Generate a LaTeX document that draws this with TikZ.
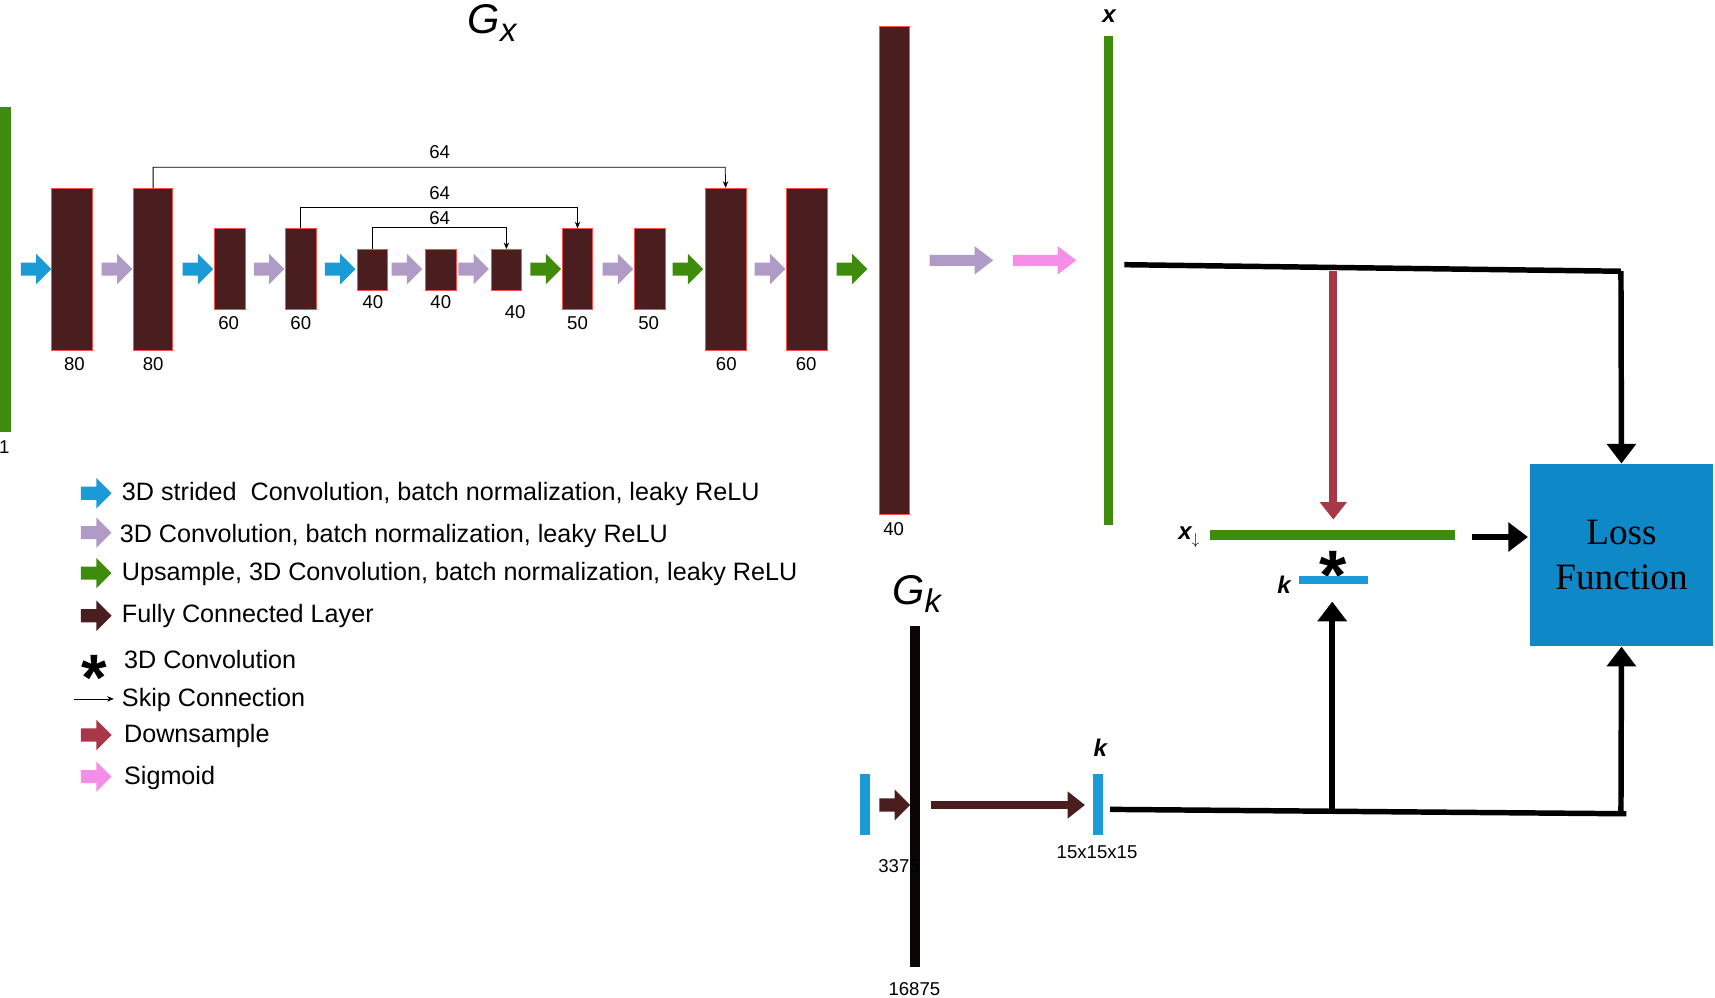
\documentclass[tikz,border=0pt]{standalone}
\usepackage{fontspec}
\setmainfont{Liberation Sans}
\newfontfamily\serifx{Liberation Serif}
\usetikzlibrary{arrows.meta}
\definecolor{cblue}{HTML}{1A9AD6}
\definecolor{clil}{HTML}{B09AC6}
\definecolor{cgrn}{HTML}{3F8C0C}
\definecolor{cbrn}{HTML}{4A1E1E}
\definecolor{cred}{HTML}{A83848}
\definecolor{cpink}{HTML}{F48EE8}
\definecolor{closs}{HTML}{0F88C8}
\begin{document}
\begin{tikzpicture}[x=1pt,y=-1pt,
  box/.style={draw=red!70!white,line width=0.6pt,fill=cbrn,inner sep=0,minimum width=#1},
  lab/.style={font=\fontsize{17}{17}\selectfont},
  leg/.style={font=\fontsize{23}{25}\selectfont,anchor=west},
  skip/.style={-{Stealth[length=6pt,width=5pt]},line width=0.7pt},
  fat/.pic={\fill[#1] (-14,-6) rectangle (0,6) (0,-14) -- (14,0) -- (0,14) -- cycle;},
  bigfat/.pic={\fill[#1] (-29,-5) rectangle (12,5) (12,-13) -- (29,0) -- (12,13) -- cycle;},
  thick line/.style={line width=5pt},
  bi/.style={font=\fontsize{22}{22}\selectfont\bfseries\itshape}]
\useasboundingbox (0,0) rectangle (1568,912);
% input bar
\fill[cgrn] (0,98) rectangle (10,395);
\node[lab] at (4,409) {1};
% boxes
\node[box=37pt,minimum height=148pt] (b1) at (65.5,246) {};
\node[box=36pt,minimum height=148pt] (b2) at (140,246) {};
\node[box=28pt,minimum height=74pt] (b3) at (210,246) {};
\node[box=28pt,minimum height=74pt] (b4) at (275,246) {};
\node[box=27pt,minimum height=37pt] (b5) at (340.5,246.5) {};
\node[box=28pt,minimum height=37pt] (b6) at (403,246.5) {};
\node[box=28pt,minimum height=37pt] (b7) at (463,246.5) {};
\node[box=28pt,minimum height=74pt] (b8) at (528,246) {};
\node[box=28pt,minimum height=74pt] (b9) at (594,246) {};
\node[box=37pt,minimum height=148pt] (b10) at (663.5,246) {};
\node[box=37pt,minimum height=148pt] (b11) at (737.5,246) {};
\node[box=27pt,minimum height=446pt] (b12) at (817.5,247) {};
\foreach \x/\y/\t in {68/333/80,140/333/80,209/295/60,275/295/60,341/276/40,403/276/40,471/285/40,528/295/50,593/295/50,664/333/60,737/333/60,817/484/40}
  \node[lab] at (\x,\y) {\t};
% arrows
\foreach \x/\c in {33/cblue,107/clil,181/cblue,246/clil,311/cblue,372/clil,433/clil,499/cgrn,565/clil,629/cgrn,704/clil,779/cgrn}
  \pic at (\x,246) {fat=\c};
\pic at (879,238) {bigfat=clil};
\pic at (955,238) {bigfat=cpink};
% skips
\draw[skip] (b2.north) |- (663,153) -- (b10.north);
\draw[skip] (b4.north) |- (528,190) -- (b8.north);
\draw[skip] (b5.north) |- (463,208) -- (b7.north);
\node[lab] at (402,139) {64};
\node[lab] at (402,177) {64};
\node[lab] at (402,199) {64};
\node[font=\fontsize{38}{38}\selectfont\itshape] at (450,21) {G\raisebox{-7pt}{\fontsize{30}{30}\selectfont x}};
% x branch
\fill[cgrn] (1009,33) rectangle (1018,480);
\node[bi] at (1014,15) {x};
\node[draw=none,fill=closs,minimum width=167pt,minimum height=167pt,align=center,
  font=\serifx\fontsize{34}{41}\selectfont] (loss) at (1482.5,507.5) {Loss\\Function};
\coordinate (xs) at (1028,242);
\coordinate (xc) at (1482,248);
\draw[thick line] (xs) -- (xc);
\draw[thick line,-{Triangle[length=18pt,width=26pt]}] (xc) -- (loss.north);
\fill[cgrn] (1106,485) rectangle (1330,494);
\node[bi] at (1087,491) {x\raisebox{-4pt}{$\scriptstyle\downarrow$}};
\draw[cred,line width=7pt,-{Triangle[length=16pt,width=24pt]}] (1219,248) -- (1219,475);
\node[font=\fontsize{64}{64}\selectfont\bfseries] at (1219,526) {*};
\fill[cblue] (1188,527) rectangle (1251,534);
\node[bi] at (1174,535) {k};
\draw[line width=6pt,-{Triangle[length=18pt,width=26pt]}] (1346,491) -- (1397,491);
% Gk
\node[font=\fontsize{38}{38}\selectfont\itshape] at (838,543) {G\raisebox{-7pt}{\fontsize{30}{30}\selectfont k}};
\fill[black!85!cbrn] (832,572) rectangle (841,884);
\node[lab] at (836,904) {16875};
\fill[cblue] (786,708) rectangle (795,763);
\pic at (818,736) {fat=cbrn};
\node[lab] at (822,792) {3375};
\fill[cblue] (999,708) rectangle (1008,763);
\node[bi] at (1006,684) {k};
\node[lab] at (1003,779) {15x15x15};
\coordinate (ga) at (851,736);
\coordinate (gb) at (992,736);
\draw[cbrn,line width=7pt,-{Triangle[length=16pt,width=24pt]}] (ga) -- (gb);
\coordinate (ks) at (1015,740);
\coordinate (kc) at (1218,742);
\coordinate (ke) at (1487,744);
\draw[thick line] (ks) -- (ke);
\draw[thick line,-{Triangle[length=18pt,width=26pt]}] (kc) -- (1218,550);
\draw[thick line,-{Triangle[length=18pt,width=26pt]}] (1482,744) -- (loss.south);
% legend
\pic at (88,451) {fat=cblue};
\pic at (88,487) {fat=clil};
\pic at (88,524) {fat=cgrn};
\pic at (88,563) {fat=cbrn};
\pic at (88,672) {fat=cred};
\pic at (88,710) {fat=cpink};
\node[font=\fontsize{60}{60}\selectfont\bfseries] at (86,620) {*};
\draw[-{Stealth[length=6pt,width=5pt]},line width=0.7pt] (68,639) -- (104,639);
\node[leg] at (108,452) {3D strided\ \ Convolution, batch normalization, leaky ReLU};
\node[leg] at (106,490) {3D Convolution, batch normalization, leaky ReLU};
\node[leg] at (108,525) {Upsample, 3D Convolution, batch normalization, leaky ReLU};
\node[leg] at (108,563) {Fully Connected Layer};
\node[leg] at (110,603) {3D Convolution};
\node[leg] at (108,640) {Skip Connection};
\node[leg] at (110,673) {Downsample};
\node[leg] at (110,711) {Sigmoid};
\end{tikzpicture}
\end{document}
